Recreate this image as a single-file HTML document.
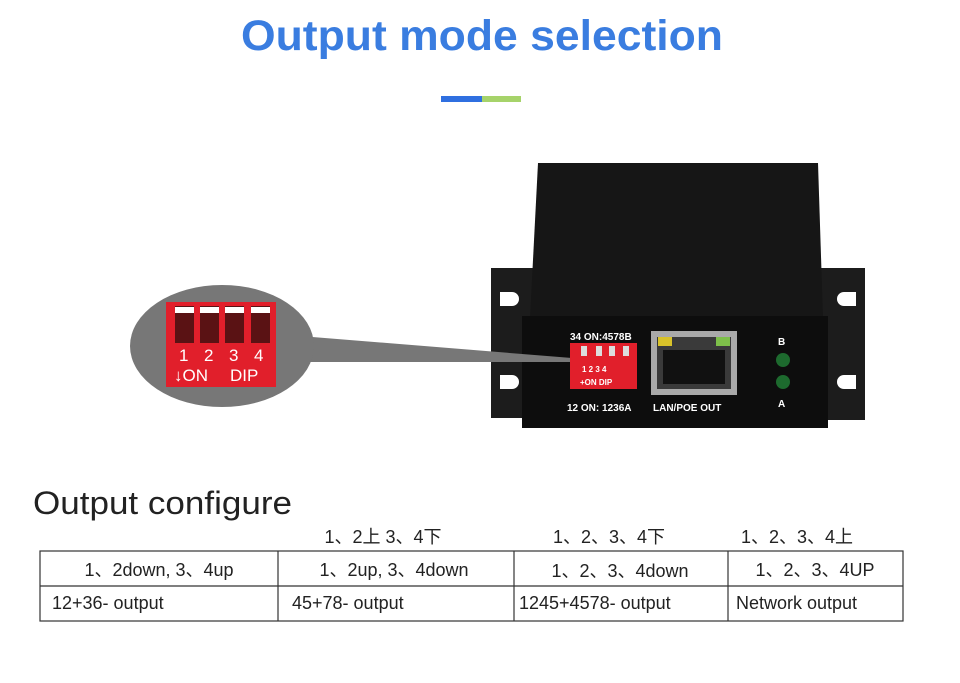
<!DOCTYPE html>
<html><head><meta charset="utf-8"><style>
body{margin:0;width:960px;height:683px;background:#fff;overflow:hidden;font-family:"Liberation Sans","Noto Sans CJK SC",sans-serif}
</style></head><body>
<svg width="960" height="683" viewBox="0 0 960 683" xmlns="http://www.w3.org/2000/svg" style="position:absolute;left:0;top:0">
<text x="241" y="50" font-family="Liberation Sans, sans-serif" font-size="43" font-weight="bold" fill="#3a7de0" textLength="482" lengthAdjust="spacingAndGlyphs">Output mode selection</text>
<rect x="441" y="96" width="41" height="6" fill="#2f6fe0"/>
<rect x="482" y="96" width="39" height="6" fill="#a6d36a"/>
<!-- flanges -->
<path d="M491 268 L535 268 L535 418 L491 418 Z" fill="#1c1c1c"/>
<path d="M820 268 L865 268 L865 420 L820 420 Z" fill="#1c1c1c"/>
<path d="M500 292 h12 a6 6 0 0 1 0 14 h-12 z M500 375 h12 a6 6 0 0 1 0 14 h-12 z" fill="#fff"/>
<path d="M856 292 h-12 a6 6 0 0 0 0 14 h12 z M856 375 h-12 a6 6 0 0 0 0 14 h12 z" fill="#fff"/>
<!-- body top -->
<path d="M538 163 L818 163 L823 318 L530 318 Z" fill="#161616"/>
<!-- front face -->
<rect x="522" y="316" width="306" height="112" fill="#0d0d0d"/>
<!-- connector cone -->
<polygon points="300,336 572,358 572,362 300,362" fill="#777"/>
<ellipse cx="222" cy="346" rx="92" ry="61" fill="#777"/>
<rect x="166" y="302" width="110" height="85" fill="#e11f2b"/>
<g fill="#5a1214"><rect x="175" y="306" width="19" height="37"/><rect x="200" y="306" width="19" height="37"/><rect x="225" y="306" width="19" height="37"/><rect x="251" y="306" width="19" height="37"/></g>
<g fill="#fff"><rect x="175" y="307" width="19" height="6"/><rect x="200" y="307" width="19" height="6"/><rect x="225" y="307" width="19" height="6"/><rect x="251" y="307" width="19" height="6"/></g>
<g fill="#fff" font-size="17" font-family="Liberation Sans, sans-serif"><text x="179" y="361">1</text><text x="204" y="361">2</text><text x="229" y="361">3</text><text x="254" y="361">4</text><text x="174" y="381">↓ON</text><text x="230" y="381">DIP</text></g>
<!-- small dip -->
<rect x="570" y="343" width="67" height="46" fill="#e11f2b"/>
<g fill="#ddd"><rect x="581" y="346" width="6" height="10"/><rect x="596" y="346" width="6" height="10"/><rect x="609" y="346" width="6" height="10"/><rect x="623" y="346" width="6" height="10"/></g>
<g fill="#fff" font-size="8" font-weight="bold"><text x="582" y="372">1 2 3 4</text><text x="580" y="385">+ON  DIP</text></g>
<g fill="#fff" font-size="10" font-weight="bold"><text x="570" y="340">34 ON:4578B</text><text x="567" y="411">12  ON: 1236A</text><text x="653" y="411">LAN/POE OUT</text><text x="778" y="345">B</text><text x="778" y="407">A</text></g>
<!-- RJ45 -->
<rect x="651" y="331" width="86" height="64" fill="#a9a9a9"/>
<rect x="657" y="337" width="74" height="52" fill="#3a3a3a"/>
<rect x="658" y="337" width="14" height="9" fill="#d8c22a"/><rect x="716" y="337" width="14" height="9" fill="#7ec04a"/>
<rect x="663" y="350" width="62" height="34" fill="#111"/>
<circle cx="783" cy="360" r="7" fill="#1d6a2e"/><circle cx="783" cy="382" r="7" fill="#1d6a2e"/>
<text x="33" y="514" font-size="32" fill="#222" textLength="259" lengthAdjust="spacingAndGlyphs">Output configure</text>
<g font-size="18" fill="#222" text-anchor="middle">
<text x="383" y="543">1、2上 3、4下</text><text x="609" y="543">1、2、3、4下</text><text x="797" y="543">1、2、3、4上</text>
<text x="159" y="576">1、2down, 3、4up</text><text x="394" y="576">1、2up, 3、4down</text><text x="620" y="577">1、2、3、4down</text><text x="815" y="576">1、2、3、4UP</text>
</g>
<g font-size="18" fill="#222"><text x="52" y="609">12+36- output</text><text x="292" y="609">45+78- output</text><text x="519" y="609">1245+4578- output</text><text x="736" y="609">Network output</text></g>
<g stroke="#333" stroke-width="1.2" fill="none"><rect x="40" y="551" width="863" height="70"/><line x1="40" y1="586" x2="903" y2="586"/><line x1="278" y1="551" x2="278" y2="621"/><line x1="514" y1="551" x2="514" y2="621"/><line x1="728" y1="551" x2="728" y2="621"/></g>
</svg>
</body></html>
